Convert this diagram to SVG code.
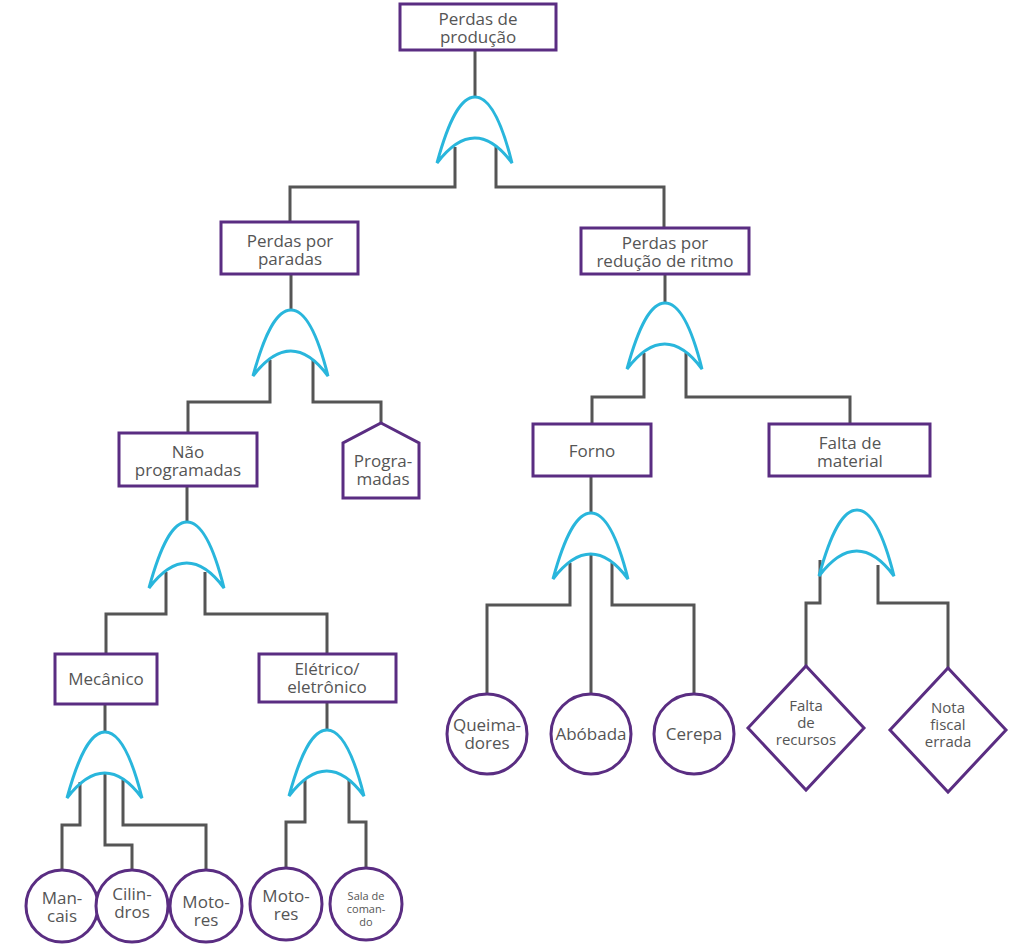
<svg xmlns="http://www.w3.org/2000/svg" xmlns:xlink="http://www.w3.org/1999/xlink" width="1024" height="944" viewBox="0 0 1024 944">
<style>
.n{fill:#fff;stroke:#5a2d82;stroke-width:3}
.c{fill:none;stroke:#555;stroke-width:3}
.g{fill:none;stroke:#29b6dc;stroke-width:3}
text{font-family:"Open Sans","Liberation Sans",sans-serif;font-size:17px;fill:#555;text-anchor:middle}
.s{font-size:15px}
</style>
<defs>
<path id="gate" d="M-38,66 C-26,22 -14,0 0,0 C14,0 26,22 37,66 Q0,16 -38,66Z"/>
</defs>
<rect width="1024" height="944" fill="#fff"/>
<g id="connectors" class="c">
<path d="M475,50V97"/>
<path d="M455,147V187H290V222"/><path d="M496,147V187H664V228"/>
<path d="M291,274V310"/>
<path d="M270,360V402H188V433"/><path d="M313,360V402H381V423"/>
<path d="M665,274V303"/>
<path d="M644,353V397H592V424"/><path d="M686,353V397H850V424"/>
<path d="M187,486V522"/>
<path d="M166,572V614H106V654"/><path d="M205,572V614H327V654"/>
<path d="M591,476V513"/>
<path d="M570,563V605H487V694"/><path d="M591,555V694"/><path d="M612,563V605H694V694"/>
<path d="M820,560V603H806V666"/><path d="M878,565V603H948V668"/>
<path d="M105,704V732"/>
<path d="M80,782V825H62V870"/><path d="M105,774V845H132V870"/><path d="M123,780V825H206V870"/>
<path d="M327,702V730"/>
<path d="M305,780V822H286V868"/><path d="M349,780V822H366V868"/>
</g>
<g id="gates" class="g">
<use xlink:href="#gate" x="475" y="97"/>
<use xlink:href="#gate" x="291" y="310"/>
<use xlink:href="#gate" x="665" y="303"/>
<use xlink:href="#gate" x="187" y="522"/>
<use xlink:href="#gate" x="591" y="513"/>
<use xlink:href="#gate" x="857" y="510"/>
<use xlink:href="#gate" x="105" y="732"/>
<use xlink:href="#gate" x="327" y="730"/>
</g>
<g id="n1"><rect class="n" x="400" y="4" width="156" height="46"/><text x="478" y="25">Perdas de</text><text x="478" y="43">produção</text></g>
<g id="n2"><rect class="n" x="221" y="222" width="137" height="52"/><text x="290" y="247">Perdas por</text><text x="290" y="265">paradas</text></g>
<g id="n3"><rect class="n" x="581" y="228" width="168" height="46"/><text x="665" y="249">Perdas por</text><text x="665" y="267">redução de ritmo</text></g>
<g id="n4"><rect class="n" x="119" y="433" width="138" height="53"/><text x="188" y="458">Não</text><text x="188" y="476">programadas</text></g>
<g id="n5"><path class="n" d="M381,423L419,443V498H343V443Z"/><text x="383" y="467">Progra-</text><text x="383" y="485">madas</text></g>
<g id="n6"><rect class="n" x="533" y="424" width="118" height="52"/><text x="592" y="457">Forno</text></g>
<g id="n7"><rect class="n" x="769" y="424" width="161" height="52"/><text x="850" y="449">Falta de</text><text x="850" y="467">material</text></g>
<g id="n8"><rect class="n" x="55" y="654" width="102" height="50"/><text x="106" y="685">Mecânico</text></g>
<g id="n9"><rect class="n" x="259" y="654" width="137" height="48"/><text x="327" y="675">Elétrico/</text><text x="327" y="693">eletrônico</text></g>
<g id="n10"><circle class="n" cx="487" cy="734" r="40"/><text x="487" y="731">Queima-</text><text x="487" y="749">dores</text></g>
<g id="n11"><circle class="n" cx="591" cy="734" r="40"/><text x="591" y="740">Abóbada</text></g>
<g id="n12"><circle class="n" cx="694" cy="734" r="40"/><text x="694" y="740">Cerepa</text></g>
<g id="n13"><path class="n" d="M806,666L864,728L806,790L748,728Z"/><text class="s" x="806" y="711">Falta</text><text class="s" x="806" y="728">de</text><text class="s" x="806" y="745">recursos</text></g>
<g id="n14"><path class="n" d="M948,668L1006,730L948,792L890,730Z"/><text class="s" x="948" y="713">Nota</text><text class="s" x="948" y="730">fiscal</text><text class="s" x="948" y="747">errada</text></g>
<g id="n15"><circle class="n" cx="62" cy="906" r="36"/><text x="62" y="904">Man-</text><text x="62" y="922">cais</text></g>
<g id="n16"><circle class="n" cx="132" cy="906" r="36"/><text x="132" y="900">Cilin-</text><text x="132" y="918">dros</text></g>
<g id="n17"><circle class="n" cx="206" cy="906" r="36"/><text x="206" y="908">Moto-</text><text x="206" y="926">res</text></g>
<g id="n18"><circle class="n" cx="286" cy="904" r="36"/><text x="286" y="902">Moto-</text><text x="286" y="920">res</text></g>
<g id="n19"><circle class="n" cx="366" cy="904" r="36"/><text x="366" y="900" style="font-size:11px">Sala de</text><text x="366" y="913" style="font-size:11px">coman-</text><text x="366" y="926" style="font-size:11px">do</text></g>
</svg>
